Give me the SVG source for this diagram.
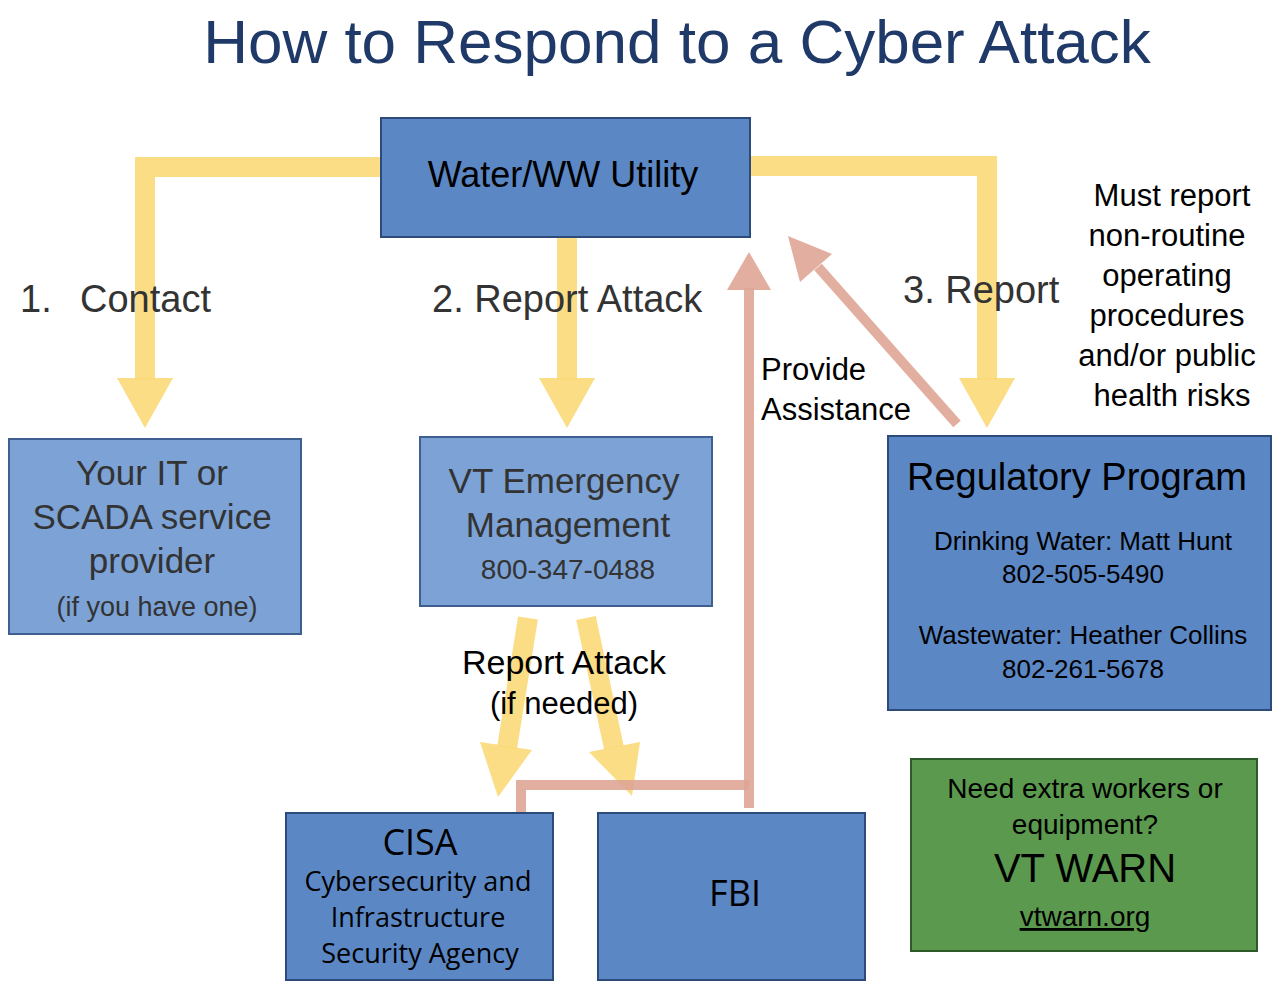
<svg xmlns="http://www.w3.org/2000/svg" width="1280" height="994" viewBox="0 0 1280 994">
<style>
.t{font-family:"Open Sans","Liberation Sans",sans-serif;fill:#000}
.a{font-family:"Liberation Sans",Arial,sans-serif}
.box{fill:#5b87c5;stroke:#2c4a7a;stroke-width:2}
.lbox{fill:#7ca2d6;stroke:#3f5f90;stroke-width:2}
.y{stroke:#fbd978;stroke-width:20;fill:none;opacity:.9}
.yh{fill:#fbd978;opacity:.9}
.p{stroke:#dea595;stroke-width:10;fill:none;opacity:.9}
.ph{fill:#dea595;opacity:.9}
</style>
<rect width="1280" height="994" fill="#fff"/>
<text class="a" x="677" y="63" font-size="62" fill="#1f3a68" text-anchor="middle">How to Respond to a Cyber Attack</text>
<g id="connectors">
<path class="y" d="M380 167H145V380"/><polygon class="yh" points="117,378 173,378 145,428"/>
<path class="y" d="M567 238V380"/><polygon class="yh" points="539,378 595,378 567,428"/>
<path class="y" d="M751 166H987V380"/><polygon class="yh" points="959,378 1015,378 987,428"/>
<path class="y" d="M528 618L507 748"/><polygon class="yh" points="480,742 532,750 498,797"/>
<path class="y" d="M586 618L614 748"/><polygon class="yh" points="589,752 640,742 632,796"/>
<path class="p" d="M521 812V785H749"/>
<path class="p" d="M749 808V288"/><polygon class="ph" points="727,290 771,290 749,252"/>
<path class="p" d="M957 424L818 267"/><polygon class="ph" points="800,282 832,254 788,236"/>
</g>
<g class="a" font-size="38" fill="#333">
<text x="20" y="312">1.</text><text x="80" y="312">Contact</text>
<text x="432" y="312">2. Report Attack</text>
<text x="903" y="303">3. Report</text>
</g>
<text class="a" font-size="31" x="761" y="380">Provide</text>
<text class="a" font-size="31" x="761" y="420">Assistance</text>
<g class="a" font-size="31" text-anchor="middle">
<text x="1172" y="206">Must report</text><text x="1167" y="246">non-routine</text><text x="1167" y="286">operating</text><text x="1167" y="326">procedures</text><text x="1167" y="366">and/or public</text><text x="1172" y="406">health risks</text>
<text x="564" y="674" font-size="34">Report Attack</text><text x="564" y="714">(if needed)</text>
</g>
<g id="utility"><rect class="box" x="381" y="118" width="369" height="119"/><text class="a" x="563" y="187" font-size="36" text-anchor="middle">Water/WW Utility</text></g>
<g id="it"><rect class="lbox" x="9" y="439" width="292" height="195"/><g class="a" text-anchor="middle" fill="#333"><text x="152" y="485" font-size="35">Your IT or</text><text x="152" y="529" font-size="35">SCADA service</text><text x="152" y="573" font-size="35">provider</text><text x="157" y="616" font-size="27">(if you have one)</text></g></g>
<g id="vtem"><rect class="lbox" x="420" y="437" width="292" height="169"/><g class="a" text-anchor="middle" fill="#333"><text x="564" y="493" font-size="35">VT Emergency</text><text x="568" y="537" font-size="35">Management</text><text x="568" y="579" font-size="28">800-347-0488</text></g></g>
<g id="reg"><rect class="box" x="888" y="436" width="383" height="274"/><g class="a" text-anchor="middle"><text x="1077" y="490" font-size="38">Regulatory Program</text><text x="1083" y="550" font-size="26">Drinking Water: Matt Hunt</text><text x="1083" y="583" font-size="26">802-505-5490</text><text x="1083" y="644" font-size="26">Wastewater: Heather Collins</text><text x="1083" y="678" font-size="26">802-261-5678</text></g></g>
<g id="warn"><rect x="911" y="759" width="346" height="192" fill="#5b9a4e" stroke="#2e5a2a" stroke-width="2"/><g class="a" text-anchor="middle"><text x="1085" y="798" font-size="28">Need extra workers or</text><text x="1085" y="834" font-size="28">equipment?</text><text x="1085" y="882" font-size="40">VT WARN</text><text x="1085" y="926" font-size="28" text-decoration="underline">vtwarn.org</text></g></g>
<g id="cisa"><rect class="box" x="286" y="813" width="267" height="167"/><g class="t" text-anchor="middle"><text x="420" y="855" font-size="36">CISA</text><text x="418" y="891" font-size="27">Cybersecurity and</text><text x="418" y="927" font-size="27">Infrastructure</text><text x="420" y="963" font-size="27">Security Agency</text></g></g>
<g id="fbi"><rect class="box" x="598" y="813" width="267" height="167"/><text class="t" x="735" y="906" font-size="36" text-anchor="middle">FBI</text></g>
</svg>
